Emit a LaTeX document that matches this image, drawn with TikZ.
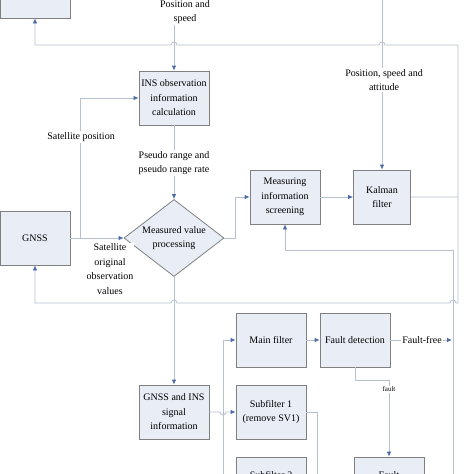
\documentclass[tikz,border=0pt]{standalone}
\usepackage{fontspec}
\setmainfont{Liberation Serif}
\usetikzlibrary{arrows.meta,shapes.geometric}
\definecolor{boxfill}{HTML}{E8EDF6}
\definecolor{boxedge}{HTML}{808080}
\definecolor{wirecol}{HTML}{B7C0CE}
\definecolor{tipblue}{HTML}{4A6AA8}
\begin{document}
\begin{tikzpicture}[x=1pt,y=-1pt,
  blk/.style={draw=boxedge, fill=boxfill, line width=0.8pt, minimum width=70, minimum height=54, inner sep=1pt, align=center},
  dia/.style={diamond, draw=boxedge, fill=boxfill, line width=0.8pt, aspect=1.3, inner sep=0pt, minimum width=100, minimum height=77, align=center},
  wire/.style={draw=wirecol, line width=0.8pt},
  arr/.style={wire, -{Latex[length=5pt,width=4.5pt,color=tipblue]}},
  lbl/.style={fill=white, inner sep=1pt, align=center},
  font=\fontsize{10}{14.5}\selectfont]
\clip (0,0) rectangle (474,474);
\fill[white] (0,0) rectangle (474,474);
\node[blk] (ins) at (35,-9){};
\node[blk] (insobs) at (174,98){INS observation\\information\\calculation};
\node[blk] (gnss) at (35,238){GNSS};
\node[dia] (proc) at (174,238){Measured value\\processing};
\node[blk] (screen) at (285,197){Measuring\\information\\screening};
\node[blk, minimum width=57] (kalman) at (382,197){Kalman\\filter};
\node[blk] (sig) at (174,412){GNSS and INS\\signal\\information};
\node[blk] (mainf) at (271,340){Main filter};
\node[blk] (faultdet) at (355,340){Fault detection};
\node[blk] (sub1) at (271,412){Subfilter 1\\(remove SV1)};
\node[blk] (sub2) at (271,484){Subfilter 2\\\strut};
\node[blk] (isolate) at (389,484){Fault\\\strut};
\coordinate (kr) at (458,197);
% feedback to the top box and to GNSS
\draw[arr] (kalman.east) -- (kr) -- (458,45) -- (385,45) arc[start angle=0,end angle=-180,radius=3] -- (177,45) arc[start angle=0,end angle=-180,radius=3] -- (35,45) -- (ins.south);
\draw[arr] (kr) -- (458,303) -- (456,303) arc[start angle=0,end angle=-180,radius=3] -- (177,303) arc[start angle=0,end angle=-180,radius=3] -- (35,303) -- (gnss.south);
\draw[arr] (174,-5) -- (insobs.north);
\draw[arr] (382,-5) -- (kalman.north);
\draw[arr] (insobs.south) -- (proc.north);
\draw[arr] (gnss.east) -- (proc.west);
\draw[arr] (gnss.east) -- (80,238) -- (80,98) -- (insobs.west);
\draw[arr] (proc.east) -- (235,238) -- (235,197) -- (screen.west);
\draw[arr] (screen.east) -- (kalman.west);
\draw[arr] (453,480) -- (453,250) -- (285,250) -- (screen.south);
\draw[arr] (proc.south) -- (sig.north);
\draw[arr] (sig.east) -- (220,412) arc[start angle=180,end angle=0,radius=3] -- (sub1.west);
\draw[arr] (223,480) -- (223,340) -- (mainf.west);
\draw[arr] (mainf.east) -- (faultdet.west);
\draw[arr] (faultdet.east) -- (452,340);
\draw[arr] (faultdet.south) -- (355,380) -- (389,380) -- (isolate.north);
\draw[wire] (sub1.east) -- (317,412) -- (317,480);
% labels on the connectors
\node[lbl] (possp) at (185,12){Position and\\speed};
\node[lbl] (posatt) at (384,80){Position, speed and\\attitude};
\node[lbl] (satpos) at (81,137){Satellite position};
\node[lbl] (pseudo) at (174,163){Pseudo range and\\pseudo range rate};
\node[lbl] (satobs) at (110,269){Satellite\\original\\observation\\values};
\node[lbl, font=\fontsize{7}{8}\selectfont] (flt) at (389,389){fault};
\node[lbl] (ffree) at (422,340){Fault-free};
\end{tikzpicture}
\end{document}
